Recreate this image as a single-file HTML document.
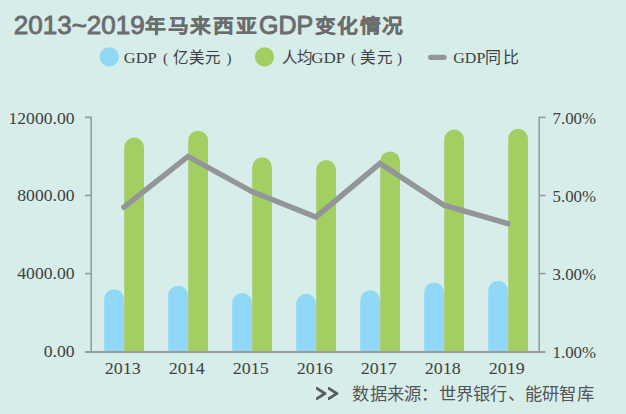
<!DOCTYPE html>
<html lang="zh-CN"><head><meta charset="utf-8"><title>chart</title>
<style>html,body{margin:0;padding:0;background:#d7ede9;overflow:hidden}svg{display:block}</style></head>
<body><svg width="626" height="414" viewBox="0 0 626 414">
<rect width="626" height="414" fill="#d7ede9"/>
<path d="M104.20 351.70V299.12A9.9 9.9 0 0 1 124.00 299.12V351.70Z" fill="#8fd8f6"/>
<path d="M124.20 351.70V147.41A9.9 9.9 0 0 1 144.00 147.41V351.70Z" fill="#a3cf62"/>
<path d="M168.20 351.70V295.61A9.9 9.9 0 0 1 188.00 295.61V351.70Z" fill="#8fd8f6"/>
<path d="M188.20 351.70V140.60A9.9 9.9 0 0 1 208.00 140.60V351.70Z" fill="#a3cf62"/>
<path d="M232.20 351.70V302.83A9.9 9.9 0 0 1 252.00 302.83V351.70Z" fill="#8fd8f6"/>
<path d="M252.20 351.70V167.23A9.9 9.9 0 0 1 272.00 167.23V351.70Z" fill="#a3cf62"/>
<path d="M296.20 351.70V303.63A9.9 9.9 0 0 1 316.00 303.63V351.70Z" fill="#8fd8f6"/>
<path d="M316.20 351.70V169.90A9.9 9.9 0 0 1 336.00 169.90V351.70Z" fill="#a3cf62"/>
<path d="M360.20 351.70V300.10A9.9 9.9 0 0 1 380.00 300.10V351.70Z" fill="#8fd8f6"/>
<path d="M380.20 351.70V161.29A9.9 9.9 0 0 1 400.00 161.29V351.70Z" fill="#a3cf62"/>
<path d="M424.20 351.70V292.48A9.9 9.9 0 0 1 444.00 292.48V351.70Z" fill="#8fd8f6"/>
<path d="M444.20 351.70V139.44A9.9 9.9 0 0 1 464.00 139.44V351.70Z" fill="#a3cf62"/>
<path d="M488.20 351.70V290.72A9.9 9.9 0 0 1 508.00 290.72V351.70Z" fill="#8fd8f6"/>
<path d="M508.20 351.70V138.74A9.9 9.9 0 0 1 528.00 138.74V351.70Z" fill="#a3cf62"/>
<polyline points="124.00,207.22 188.00,156.45 252.00,191.59 316.00,216.98 380.00,163.48 444.00,205.26 508.00,223.62" fill="none" stroke="#939598" stroke-width="5.5" stroke-linecap="round" stroke-linejoin="miter"/>
<path d="M85 117.4H91.2V351.7" fill="none" stroke="#9a9b9d" stroke-width="1.6"/>
<path d="M85 195.50H91.2" stroke="#9a9b9d" stroke-width="1.6"/>
<path d="M85 273.60H91.2" stroke="#9a9b9d" stroke-width="1.6"/>
<path d="M545.5 117.4H539.2V351.7" fill="none" stroke="#9a9b9d" stroke-width="1.6"/>
<path d="M545.5 195.50H539.2" stroke="#9a9b9d" stroke-width="1.6"/>
<path d="M545.5 273.60H539.2" stroke="#9a9b9d" stroke-width="1.6"/>
<path d="M85 352H545.5" stroke="#9a9b9d" stroke-width="2"/>
<circle cx="109.2" cy="56.9" r="9.6" fill="#8fd8f6"/>
<circle cx="264.5" cy="56.9" r="9.6" fill="#a3cf62"/>
<path d="M430.6 57.3H444.1" stroke="#939598" stroke-width="5.2" stroke-linecap="round"/>
<path d="M316.10 387L317.30 387L326.40 392.7L326.40 394.3L317.30 400.1L316.10 400.1L316.10 397.5L322.30 393.5L316.10 389.6Z M328.00 387L329.20 387L338.30 392.7L338.30 394.3L329.20 400.1L328.00 400.1L328.00 397.5L334.20 393.5L328.00 389.6Z" fill="#5a5b5d"/>
<text x="74.50" y="124.20" font-size="17" font-family='"Liberation Serif", serif' font-weight="normal" fill="#3f4042" text-anchor="end"  textLength="65.98" lengthAdjust="spacingAndGlyphs">12000.00</text>
<text x="74.50" y="200.70" font-size="17" font-family='"Liberation Serif", serif' font-weight="normal" fill="#3f4042" text-anchor="end"  textLength="57.18" lengthAdjust="spacingAndGlyphs">8000.00</text>
<text x="74.50" y="278.80" font-size="17" font-family='"Liberation Serif", serif' font-weight="normal" fill="#3f4042" text-anchor="end"  textLength="57.18" lengthAdjust="spacingAndGlyphs">4000.00</text>
<text x="74.50" y="356.90" font-size="17" font-family='"Liberation Serif", serif' font-weight="normal" fill="#3f4042" text-anchor="end"  textLength="30.79" lengthAdjust="spacingAndGlyphs">0.00</text>
<text x="552.50" y="123.90" font-size="16.2" font-family='"Liberation Serif", serif' font-weight="normal" fill="#3f4042" text-anchor="start"  textLength="43.5" lengthAdjust="spacingAndGlyphs">7.00%</text>
<text x="552.50" y="202.00" font-size="16.2" font-family='"Liberation Serif", serif' font-weight="normal" fill="#3f4042" text-anchor="start"  textLength="43.5" lengthAdjust="spacingAndGlyphs">5.00%</text>
<text x="552.50" y="280.10" font-size="16.2" font-family='"Liberation Serif", serif' font-weight="normal" fill="#3f4042" text-anchor="start"  textLength="43.5" lengthAdjust="spacingAndGlyphs">3.00%</text>
<text x="552.50" y="358.20" font-size="16.2" font-family='"Liberation Serif", serif' font-weight="normal" fill="#3f4042" text-anchor="start"  textLength="43.5" lengthAdjust="spacingAndGlyphs">1.00%</text>
<text x="122.80" y="374.40" font-size="17.5" font-family='"Liberation Serif", serif' font-weight="normal" fill="#3f4042" text-anchor="middle"  textLength="36" lengthAdjust="spacingAndGlyphs">2013</text>
<text x="186.80" y="374.40" font-size="17.5" font-family='"Liberation Serif", serif' font-weight="normal" fill="#3f4042" text-anchor="middle"  textLength="36" lengthAdjust="spacingAndGlyphs">2014</text>
<text x="250.80" y="374.40" font-size="17.5" font-family='"Liberation Serif", serif' font-weight="normal" fill="#3f4042" text-anchor="middle"  textLength="36" lengthAdjust="spacingAndGlyphs">2015</text>
<text x="314.80" y="374.40" font-size="17.5" font-family='"Liberation Serif", serif' font-weight="normal" fill="#3f4042" text-anchor="middle"  textLength="36" lengthAdjust="spacingAndGlyphs">2016</text>
<text x="378.80" y="374.40" font-size="17.5" font-family='"Liberation Serif", serif' font-weight="normal" fill="#3f4042" text-anchor="middle"  textLength="36" lengthAdjust="spacingAndGlyphs">2017</text>
<text x="442.80" y="374.40" font-size="17.5" font-family='"Liberation Serif", serif' font-weight="normal" fill="#3f4042" text-anchor="middle"  textLength="36" lengthAdjust="spacingAndGlyphs">2018</text>
<text x="506.80" y="374.40" font-size="17.5" font-family='"Liberation Serif", serif' font-weight="normal" fill="#3f4042" text-anchor="middle"  textLength="36" lengthAdjust="spacingAndGlyphs">2019</text>
<text x="123.80" y="62.60" font-size="15" font-family='"Liberation Serif", serif' font-weight="normal" fill="#3f4042" text-anchor="start"  textLength="33" lengthAdjust="spacingAndGlyphs">GDP</text>
<text x="163.00" y="62.60" font-size="15" font-family='"Liberation Serif", serif' font-weight="normal" fill="#3f4042" text-anchor="start" >(</text>
<text x="173.20 188.60 204.60" y="62.60" font-size="15.5" font-family='"Liberation Serif", serif' font-weight="normal" fill="#3f4042" text-anchor="start" >亿美元</text>
<text x="226.50" y="62.60" font-size="15" font-family='"Liberation Serif", serif' font-weight="normal" fill="#3f4042" text-anchor="start" >)</text>
<text x="282.20 296.70" y="62.60" font-size="15.5" font-family='"Liberation Serif", serif' font-weight="normal" fill="#3f4042" text-anchor="start" >人均</text>
<text x="311.30" y="62.60" font-size="15" font-family='"Liberation Serif", serif' font-weight="normal" fill="#3f4042" text-anchor="start"  textLength="34" lengthAdjust="spacingAndGlyphs">GDP</text>
<text x="351.00" y="62.60" font-size="15" font-family='"Liberation Serif", serif' font-weight="normal" fill="#3f4042" text-anchor="start" >(</text>
<text x="360.00 376.70" y="62.60" font-size="15.5" font-family='"Liberation Serif", serif' font-weight="normal" fill="#3f4042" text-anchor="start" >美元</text>
<text x="397.00" y="62.60" font-size="15" font-family='"Liberation Serif", serif' font-weight="normal" fill="#3f4042" text-anchor="start" >)</text>
<text x="453.30" y="62.60" font-size="15" font-family='"Liberation Serif", serif' font-weight="normal" fill="#3f4042" text-anchor="start"  textLength="32" lengthAdjust="spacingAndGlyphs">GDP</text>
<text x="484.90 502.50" y="62.60" font-size="16" font-family='"Liberation Serif", serif' font-weight="normal" fill="#3f4042" text-anchor="start" >同比</text>
<text x="13.80" y="33.60" font-size="26" font-family='"Liberation Sans", sans-serif' font-weight="normal" fill="#6b6c6e" text-anchor="start" stroke="#6b6c6e" stroke-width="0.9">2013~2019</text>
<text x="144.80 167.80 190.50 213.50 235.60" y="0.00" font-size="20.8" font-family='"Liberation Sans", sans-serif' font-weight="bold" fill="#6b6c6e" text-anchor="start" stroke="#6b6c6e" stroke-width="0.35" transform="translate(0 32.6) scale(1 0.95)">年马来西亚</text>
<text x="259.00" y="33.60" font-size="25" font-family='"Liberation Sans", sans-serif' font-weight="normal" fill="#6b6c6e" text-anchor="start" stroke="#6b6c6e" stroke-width="0.9">GDP</text>
<text x="315.00 337.00 359.70 382.10" y="0.00" font-size="20.8" font-family='"Liberation Sans", sans-serif' font-weight="bold" fill="#6b6c6e" text-anchor="start" stroke="#6b6c6e" stroke-width="0.35" transform="translate(0 32.6) scale(1 0.95)">变化情况</text>
<text x="352.40 369.65 386.90 404.15 421.40 438.65 455.90 473.15 490.40 507.65 524.90 542.15 559.40 576.65" y="400.20" font-size="17.3" font-family='"Liberation Sans", sans-serif' font-weight="normal" fill="#545557" text-anchor="start" >数据来源：世界银行、能研智库</text>
</svg></body></html>
